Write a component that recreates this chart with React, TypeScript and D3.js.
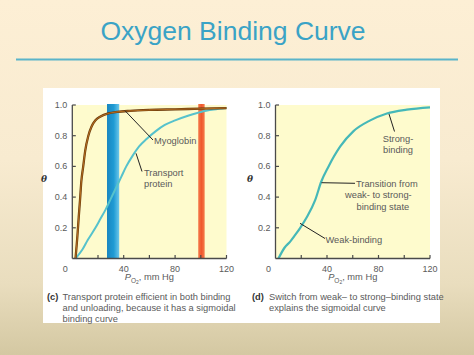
import React from "react";
import * as d3 from "d3";

// Fractional saturation vs oxygen partial pressure (mm Hg)
const myoglobinP = [2.5, 4, 5, 6, 7, 8.5, 10, 12.5, 15, 18, 22, 28, 35, 45, 60, 80, 100, 120];
const myoglobinTheta = [0, 0.15, 0.27, 0.38, 0.5, 0.6, 0.7, 0.8, 0.86, 0.9, 0.925, 0.945, 0.955, 0.962, 0.968, 0.972, 0.976, 0.98];

const transportP = [2.5, 8, 12, 18, 22, 26, 30, 34, 38, 42, 47, 52, 58, 65, 72, 80, 90, 100, 110, 120];
const transportTheta = [0, 0.06, 0.12, 0.2, 0.26, 0.32, 0.39, 0.46, 0.53, 0.6, 0.67, 0.73, 0.78, 0.83, 0.87, 0.9, 0.93, 0.955, 0.97, 0.98];

const sigmoidP = [2.3, 7, 11.4, 15, 19.2, 24.4, 30.8, 35.5, 41.2, 50.3, 60.6, 73.6, 86.5, 102, 120];
const sigmoidTheta = [0, 0.07, 0.11, 0.15, 0.2, 0.27, 0.38, 0.5, 0.6, 0.73, 0.83, 0.9, 0.945, 0.97, 0.985];

// Shaded pressure ranges: tissues (blue) and lungs (red)
const tissueBand = [27, 36.5];
const lungBand = [98, 103];

const xTicks = [0, 20, 40, 60, 80, 100, 120];
const xLabels = [0, 40, 80, 120];
const yTicks = [0.2, 0.4, 0.6, 0.8, 1.0];

const captionC = [
  "Transport protein efficient in both binding",
  "and unloading, because it has a sigmoidal",
  "binding curve",
];
const captionD = ["Switch from weak– to strong–binding state", "explains the sigmoidal curve"];

const FONT = "'Liberation Sans', Arial, Helvetica, sans-serif";
const TEXT = "#5a5a5a";

type Panel = { x0: number; x1: number };

function Axes({ x, y, thetaX }: { x: d3.ScaleLinear<number, number>; y: d3.ScaleLinear<number, number>; thetaX: number }) {
  const [r0, r1] = x.range();
  const [b, t] = y.range();
  return (
    <g>
      <line x1={r0} x2={r0} y1={b} y2={t} stroke="#4a4a4a" strokeWidth={1.3} />
      <line x1={r0} x2={r1} y1={b} y2={b} stroke="#4a4a4a" strokeWidth={1.3} />
      {yTicks.map((v) => (
        <g key={v}>
          <line x1={r0} x2={r0 + 3.5} y1={y(v)} y2={y(v)} stroke="#4a4a4a" strokeWidth={1.2} />
          <text x={r0 - 5} y={y(v) + 3} textAnchor="end" fontSize={9} fill={TEXT} fontFamily={FONT}>
            {v.toFixed(1)}
          </text>
        </g>
      ))}
      {xTicks.slice(1).map((v) => (
        <line key={v} x1={x(v)} x2={x(v)} y1={b} y2={b - 3.5} stroke="#4a4a4a" strokeWidth={1.2} />
      ))}
      {xLabels.map((v) => (
        <text key={v} x={v === 0 ? x(v) - 7 : x(v)} y={b + 13} textAnchor="middle" fontSize={9} fill={TEXT} fontFamily={FONT}>
          {v}
        </text>
      ))}
      <text x={thetaX} y={182} textAnchor="middle" fontSize={9} fontStyle="italic" fontWeight="bold" fill="#333" fontFamily="'DejaVu Serif', serif">
        θ
      </text>
      <text x={(r0 + r1) / 2} y={280} textAnchor="middle" fontSize={9.3} fill={TEXT} fontFamily={FONT}>
        <tspan fontStyle="italic">P</tspan>
        <tspan fontSize={6.5} dy={2.5}>O</tspan>
        <tspan fontSize={5} dy={1.5}>2</tspan>
        <tspan dy={-4}>, mm Hg</tspan>
      </text>
    </g>
  );
}

export default function App() {
  const W = 474;
  const H = 355;
  const yTop = 105;
  const yBot = 258.5;
  const y = d3.scaleLinear().domain([0, 1]).range([yBot, yTop]);
  const left: Panel = { x0: 72.3, x1: 226.5 };
  const right: Panel = { x0: 275.5, x1: 430 };
  const xl = d3.scaleLinear().domain([0, 120]).range([left.x0, left.x1]);
  const xr = d3.scaleLinear().domain([0, 120]).range([right.x0, right.x1]);

  const lineOf = (xs: d3.ScaleLinear<number, number>, P: number[], T: number[]) =>
    d3
      .line<number>()
      .x((_, i) => xs(P[i]))
      .y((_, i) => y(T[i]))
      .curve(d3.curveMonotoneX)(T) as string;

  const lbl = (x: number, yy: number, s: string, anchor: "start" | "middle" = "start") => (
    <text x={x} y={yy} fontSize={9.3} fill={TEXT} fontFamily={FONT} textAnchor={anchor}>
      {s}
    </text>
  );

  return (
    <svg width={W} height={H} style={{ position: "absolute", left: 0, top: 0 }}>
      <defs>
        <linearGradient id="bg" x1="0" y1="0" x2="0" y2="1">
          <stop offset="0" stopColor="#fdefd5" />
          <stop offset="0.45" stopColor="#f8ebd0" />
          <stop offset="0.8" stopColor="#e9ddbe" />
          <stop offset="1" stopColor="#d4c8a2" />
        </linearGradient>
        <linearGradient id="blueBand" x1="0" y1="0" x2="1" y2="0">
          <stop offset="0" stopColor="#1a86c0" />
          <stop offset="0.55" stopColor="#1f9bd4" />
          <stop offset="1" stopColor="#6cc6ea" />
        </linearGradient>
        <linearGradient id="redBand" x1="0" y1="0" x2="1" y2="0">
          <stop offset="0" stopColor="#f47a4a" />
          <stop offset="0.5" stopColor="#f0582e" />
          <stop offset="1" stopColor="#f47a4a" />
        </linearGradient>
      </defs>
      <rect width={W} height={H} fill="url(#bg)" />

      <text x={233} y={40} textAnchor="middle" fontSize={26.5} fill="#3aa3c6" fontFamily={FONT}>
        Oxygen Binding Curve
      </text>
      <line x1={16} x2={458} y1={59.5} y2={59.5} stroke="#5ab4c9" strokeWidth={2} />

      <rect x={43} y={88} width={397} height={235} fill="#ffffff" />

      {/* left panel (c) */}
      <rect x={left.x0} y={yTop} width={left.x1 - left.x0} height={yBot - yTop} fill="#fefbcd" />
      <rect x={xl(tissueBand[0])} y={yTop - 1} width={xl(tissueBand[1]) - xl(tissueBand[0])} height={yBot - yTop + 1} fill="url(#blueBand)" />
      <rect x={xl(lungBand[0])} y={yTop - 1} width={xl(lungBand[1]) - xl(lungBand[0])} height={yBot - yTop + 1} fill="url(#redBand)" />
      <path d={lineOf(xl, transportP, transportTheta)} fill="none" stroke="#56c2cc" strokeWidth={2} />
      <path d={lineOf(xl, myoglobinP, myoglobinTheta)} fill="none" stroke="#6a3a0c" strokeWidth={2.3} />
      <path d={lineOf(xl, myoglobinP, myoglobinTheta)} fill="none" stroke="#b06a1e" strokeWidth={1.1} />
      <Axes x={xl} y={y} thetaX={44} />
      <line x1={125} y1={110.7} x2={153} y2={140} stroke="#222" strokeWidth={1} />
      {lbl(154, 144, "Myoglobin")}
      <line x1={136} y1={153.3} x2={142} y2={171.5} stroke="#222" strokeWidth={1} />
      {lbl(144, 175.5, "Transport")}
      {lbl(144, 187, "protein")}

      {/* right panel (d) */}
      <rect x={right.x0} y={yTop} width={right.x1 - right.x0} height={yBot - yTop} fill="#fefbcd" />
      <path d={lineOf(xr, sigmoidP, sigmoidTheta)} fill="none" stroke="#45b8b8" strokeWidth={2.2} />
      <Axes x={xr} y={y} thetaX={250} />
      <line x1={389} y1={114} x2={394.5} y2={131.5} stroke="#222" strokeWidth={1} />
      {lbl(398, 141.5, "Strong-", "middle")}
      {lbl(398, 153, "binding", "middle")}
      <line x1={321.5} y1={182.7} x2={355} y2={183.3} stroke="#222" strokeWidth={1} />
      {lbl(356, 186.5, "Transition from")}
      {lbl(345, 198, "weak- to strong-")}
      {lbl(356.5, 209.5, "binding state")}
      <line x1={300} y1={223.3} x2={325} y2={238.5} stroke="#222" strokeWidth={1} />
      {lbl(325.5, 243, "Weak-binding")}

      {/* captions */}
      <g fontFamily={FONT} fontSize={9.3} fill={TEXT}>
        <text x={47} y={299.5} fontWeight="bold" fill="#333">(c)</text>
        {captionC.map((s, i) => (
          <text key={i} x={62.5} y={299.5 + i * 11}>{s}</text>
        ))}
        <text x={252} y={299.5} fontWeight="bold" fill="#333">(d)</text>
        {captionD.map((s, i) => (
          <text key={i} x={269} y={299.5 + i * 11}>{s}</text>
        ))}
      </g>
    </svg>
  );
}
